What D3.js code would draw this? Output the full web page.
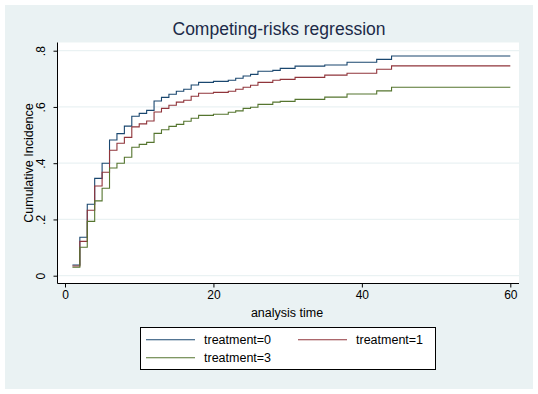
<!DOCTYPE html>
<html><head><meta charset="utf-8">
<script src="https://cdn.jsdelivr.net/npm/d3@7"></script>
<style>html,body{margin:0;padding:0;background:#fff;} svg{display:block;font-family:"Liberation Sans",Arial,sans-serif;}</style>
</head><body>
<script>
const times = [1,2,3,4,5,6,7,8,9,10,11,12,13,14,15,16,17,18,20,22,23,24,25,26,28,29,31,35,38,42,44,60];
const treat0 = [0.038,0.1365,0.254,0.346,0.400,0.4825,0.505,0.532,0.567,0.577,0.588,0.621,0.634,0.645,0.656,0.663,0.678,0.6875,0.691,0.695,0.702,0.710,0.716,0.727,0.730,0.737,0.745,0.749,0.759,0.769,0.781,0.781];
const treat1 = [0.0345,0.122,0.2325,0.319,0.368,0.446,0.471,0.492,0.529,0.540,0.550,0.582,0.595,0.606,0.617,0.624,0.638,0.6485,0.652,0.656,0.663,0.670,0.677,0.6875,0.695,0.698,0.705,0.713,0.720,0.734,0.746,0.746];
const treat3 = [0.030,0.101,0.193,0.266,0.311,0.383,0.400,0.421,0.4565,0.467,0.474,0.506,0.519,0.531,0.538,0.549,0.560,0.570,0.574,0.581,0.586,0.595,0.599,0.609,0.617,0.620,0.627,0.635,0.646,0.657,0.670,0.670];
const seriesNames = ["treatment=0","treatment=1","treatment=3"];
const xTicks = [0,20,40,60];
const yTicks = [0,0.2,0.4,0.6,0.8];
const yTickLabels = ["0",".2",".4",".6",".8"];
const colors = ["#1a476f","#90353b","#55752f"];

const W = 538, H = 394;
const svg = d3.select("body").append("svg").attr("width", W).attr("height", H);

// outer background
svg.append("rect").attr("x",5).attr("y",5).attr("width",528).attr("height",384).attr("fill","#eaf2f3");
// plot region
const pl = 57.5, pr = 519, pt = 42.5, pb = 283.5;
svg.append("rect").attr("x",pl).attr("y",pt).attr("width",pr-pl).attr("height",pb-pt).attr("fill","#fff");

const x = d3.scaleLinear().domain([0,60]).range([65, 510.3]);
const y = d3.scaleLinear().domain([0,0.8]).range([275.7, 50.7]);

// gridlines
svg.append("g").selectAll("line").data(yTicks).join("line")
  .attr("x1",pl).attr("x2",pr).attr("y1",d=>y(d)).attr("y2",d=>y(d))
  .attr("stroke","#eaf2f3").attr("stroke-width",1.2);

// title
svg.append("text").attr("x",279).attr("y",35).attr("text-anchor","middle")
  .attr("font-size",17.5).attr("fill","#1c2a48").text("Competing-risks regression");

// y axis
const yAxis = d3.axisLeft(y).tickValues(yTicks).tickFormat((d,i)=>yTickLabels[i]).tickSize(4).tickPadding(3);
const gy = svg.append("g").attr("transform",`translate(${pl},0)`).call(yAxis);
gy.select(".domain").remove();
gy.append("line").attr("x1",0).attr("x2",0).attr("y1",pt).attr("y2",pb).attr("stroke","#000");
gy.selectAll(".tick line").attr("stroke","#000");
gy.selectAll(".tick text").attr("font-size",12).attr("fill","#000")
  .attr("text-anchor","middle").attr("x",null).attr("dy",null)
  .attr("transform","translate(-12.5,0) rotate(-90)").attr("y",0);

// x axis
const xAxis = d3.axisBottom(x).tickValues(xTicks).tickFormat(d3.format("d")).tickSize(4).tickPadding(3);
const gx = svg.append("g").attr("transform",`translate(0,${pb})`).call(xAxis);
gx.select(".domain").remove();
gx.append("line").attr("x1",pl).attr("x2",pr).attr("y1",0).attr("y2",0).attr("stroke","#000");
gx.selectAll(".tick line").attr("stroke","#000");
gx.selectAll(".tick text").attr("font-size",12).attr("fill","#000");

// axis titles
svg.append("text").attr("x",287).attr("y",317).attr("text-anchor","middle").attr("font-size",12.5).attr("fill","#000").text("analysis time");
svg.append("text").attr("transform","translate(33,163) rotate(-90)").attr("text-anchor","middle").attr("font-size",12.5).attr("fill","#000").text("Cumulative Incidence");

// lines
const series = [treat0, treat1, treat3];
const line = d3.line().x((d,i)=>x(times[i])).y(d=>y(d)).curve(d3.curveStepAfter);
svg.append("g").selectAll("path").data(series).join("path")
  .attr("d", d=>line(d)).attr("fill","none").attr("stroke",(d,i)=>colors[i]).attr("stroke-width",1.1);

// legend
const lg = svg.append("g");
lg.append("rect").attr("x",140.5).attr("y",327.5).attr("width",295).attr("height",42).attr("fill","#fff").attr("stroke","#000").attr("stroke-width",1);
const legPos = [[146,339.7],[298,339.7],[146,357.7]];
seriesNames.forEach((n,i)=>{
  const [lx,ly] = legPos[i];
  lg.append("line").attr("x1",lx).attr("x2",lx+49).attr("y1",ly).attr("y2",ly).attr("stroke",colors[i]).attr("stroke-width",1.1);
  lg.append("text").attr("x",lx+58).attr("y",ly+4.5).attr("font-size",12.5).attr("fill","#000").text(n);
});
</script>
</body></html>
